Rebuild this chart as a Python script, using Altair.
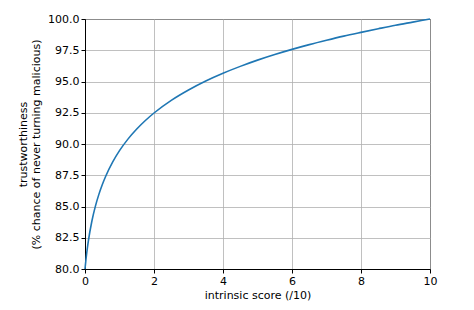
import altair as alt
import pandas as pd

# values
score = [0, 0.01, 0.025, 0.05, 0.1, 0.2, 0.3, 0.4, 0.5, 0.6, 0.8, 1.0, 1.25, 1.5,
         1.75, 2.0, 2.5, 3.0, 3.5, 4.0, 4.5, 5.0, 5.5, 6.0, 6.5, 7.0, 7.5, 8.0,
         8.5, 9.0, 9.5, 10.0]
trust = [80.0, 80.28, 80.68, 81.28, 82.29, 83.84, 85.01, 85.95, 86.74, 87.42, 88.55,
         89.47, 90.41, 91.20, 91.88, 92.48, 93.49, 94.32, 95.04, 95.66, 96.21, 96.71,
         97.16, 97.57, 97.95, 98.30, 98.63, 98.93, 99.22, 99.50, 99.75, 100.0]

x_ticks = [0, 2, 4, 6, 8, 10]
y_ticks = [80, 82.5, 85, 87.5, 90, 92.5, 95, 97.5, 100]

df = pd.DataFrame({"score": score, "trust": trust})

FONT = "DejaVu Sans"

chart = alt.Chart(df).mark_line(color="#1f77b4", strokeWidth=1.6, interpolate="monotone").encode(
    x=alt.X("score:Q", scale=alt.Scale(domain=[0, 10], nice=False, zero=False),
            axis=alt.Axis(values=x_ticks, title="intrinsic score (/10)", format="d")),
    y=alt.Y("trust:Q", scale=alt.Scale(domain=[80, 100], nice=False, zero=False),
            axis=alt.Axis(values=y_ticks, format=".1f",
                          title=["trustworthiness", "(% chance of never turning malicious)"])),
).properties(
    width=345, height=250,
    padding={"left": 85, "top": 19, "right": 44, "bottom": 41},
    autosize=alt.AutoSizeParams(type="none"),
).configure_view(
    stroke="#000000", strokeWidth=1
).configure_axis(
    domainColor="#000000", domainWidth=1,
    tickColor="#000000", tickSize=4, tickWidth=1,
    gridColor="#b0b0b0", gridWidth=0.8,
    labelFont=FONT, labelFontSize=11, labelColor="#000000", labelPadding=2,
    titleFont=FONT, titleFontSize=11, titleColor="#000000", titleFontWeight="normal",
    labelFlush=False,
).configure_axisY(
    titlePadding=6, titleLineHeight=13
).configure_axisX(
    titlePadding=3
)

chart.save("out.html", embed_options={"renderer": "svg", "actions": False})
